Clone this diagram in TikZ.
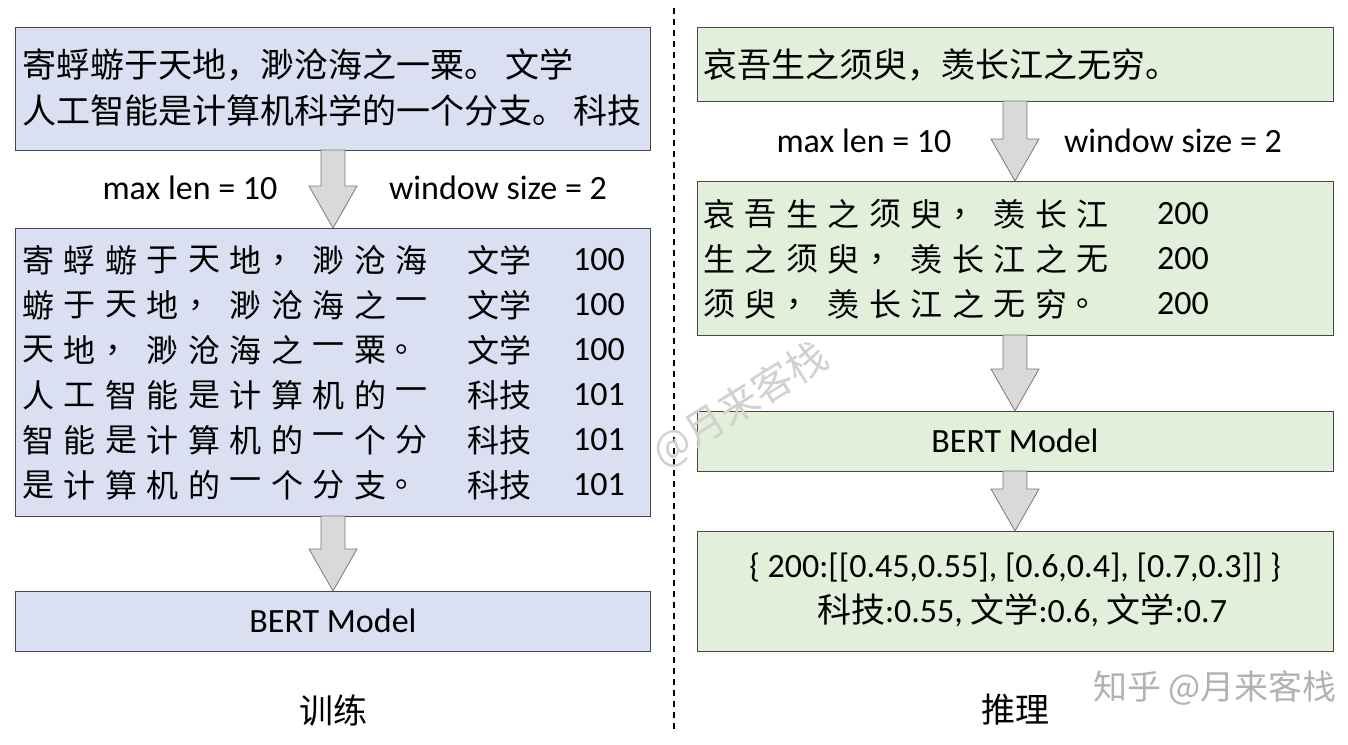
\documentclass[tikz,border=0pt]{standalone}
\usepackage{fontspec}
\setmainfont{Carlito}
\newfontfamily\cjk{Noto Sans CJK SC}
\definecolor{bluef}{RGB}{218,224,242}
\definecolor{greenf}{RGB}{226,239,218}
\definecolor{bord}{RGB}{70,70,70}
\definecolor{arrf}{RGB}{217,217,217}
\definecolor{arrd}{RGB}{120,120,120}
\tikzset{
 bbox/.style={draw=bord,line width=1pt,fill=bluef},
 gbox/.style={draw=bord,line width=1pt,fill=greenf},
 lat/.style={font=\fontsize{34}{40}\selectfont,inner sep=0pt},
 ch/.style={font=\fontsize{32}{38}\selectfont\cjk,inner sep=0pt},
 chb/.style={font=\fontsize{34}{40}\selectfont\cjk,inner sep=0pt},
 blk/.style={fill=arrf,draw=arrd,line width=0.8pt},
}
\newcommand{\blockarrow}[3]{% x, ytop, ybottom
 \draw[blk] (#1-12,#2) -- (#1+12,#2) -- (#1+12,#3-42) -- (#1+24,#3-42) -- (#1,#3) -- (#1-24,#3-42) -- (#1-12,#3-42) -- cycle;}
\newcommand{\crow}[4]{% x0, y, list
 \foreach \c [count=\i from 0] in {#3} {\node[ch,anchor=west] at (#1+41.5*\i,#2) {\c};}}
\begin{document}
\begin{tikzpicture}[x=1pt,y=-1pt]
\useasboundingbox (0,0) rectangle (1348,744);
% left
\node[bbox,minimum width=635,minimum height=123,anchor=north west] (l1) at (15,27) {};
\node[chb,anchor=west] (l1a) at (22,65) {寄蜉蝣于天地，渺沧海之一粟。 文学};
\node[chb,anchor=west] (l1b) at (22,110) {人工智能是计算机科学的一个分支。 科技};
\node[bbox,minimum width=635,minimum height=288,anchor=north west] (l2) at (15,228) {};
\node[bbox,minimum width=635,minimum height=60,anchor=north west] (l3) at (15,591) {};
\node[lat] (l3t) at (333,621) {BERT Model};
\blockarrow{333}{150}{228}
\blockarrow{333}{516}{591}
\node[lat] (ml1) at (190,188) {max len = 10};
\node[lat] (ws1) at (498,188) {window size = 2};
\crow{22}{260}{寄,蜉,蝣,于,天,地,，,渺,沧,海}{}
\crow{22}{305}{蝣,于,天,地,，,渺,沧,海,之,一}{}
\crow{22}{350}{天,地,，,渺,沧,海,之,一,粟,。}{}
\crow{22}{395}{人,工,智,能,是,计,算,机,的,一}{}
\crow{22}{440}{智,能,是,计,算,机,的,一,个,分}{}
\crow{22}{485}{是,计,算,机,的,一,个,分,支,。}{}
\foreach \y/\a/\n in {260/文学/100,305/文学/100,350/文学/100,395/科技/101,440/科技/101,485/科技/101}{
 \node[ch,anchor=west] at (467,\y) {\a};
 \node[lat,anchor=west] at (573,\y) {\n};}
\node[chb] (lab1) at (333,710) {训练};
% divider
\coordinate (dt) at (674,8); \coordinate (db) at (674,732);
\draw[line width=1.5pt,dash pattern=on 6pt off 5pt] (dt) -- (db);
% right
\node[gbox,minimum width=636,minimum height=74,anchor=north west] (r1) at (697,27) {};
\node[chb,anchor=west] (r1t) at (703,65) {哀吾生之须臾，羡长江之无穷。};
\node[gbox,minimum width=636,minimum height=154,anchor=north west] (r2) at (697,181) {};
\node[gbox,minimum width=636,minimum height=60,anchor=north west] (r3) at (697,411) {};
\node[lat] (r3t) at (1015,441) {BERT Model};
\node[gbox,minimum width=636,minimum height=120,anchor=north west] (r4) at (697,531) {};
\blockarrow{1015}{101}{181}
\blockarrow{1015}{335}{411}
\blockarrow{1015}{471}{531}
\node[lat] (ml2) at (864,141) {max len = 10};
\node[lat] (ws2) at (1173,141) {window size = 2};
\crow{703}{214}{哀,吾,生,之,须,臾,，,羡,长,江}{}
\crow{703}{259}{生,之,须,臾,，,羡,长,江,之,无}{}
\crow{703}{304}{须,臾,，,羡,长,江,之,无,穷,。}{}
\foreach \y in {214,259,304}{\node[lat,anchor=west] at (1157,\y) {200};}
\node[lat] (o1) at (1015,568) {\{ 200:[[0.45,0.55], [0.6,0.4], [0.7,0.3]] \}};
\node[lat] (o2) at (1022,610) {{\cjk 科技}:0.55, {\cjk 文学}:0.6, {\cjk 文学}:0.7};
\node[chb] (lab2) at (1015,710) {推理};
% watermarks
\node[font=\fontsize{40}{46}\selectfont\cjk,text=black!18,rotate=32] (wm1) at (740,405) {@月来客栈};
\node[font=\fontsize{34}{40}\selectfont\cjk,text=black!30] (wm2) at (1215,688) {知乎 @月来客栈};
\end{tikzpicture}
\end{document}
